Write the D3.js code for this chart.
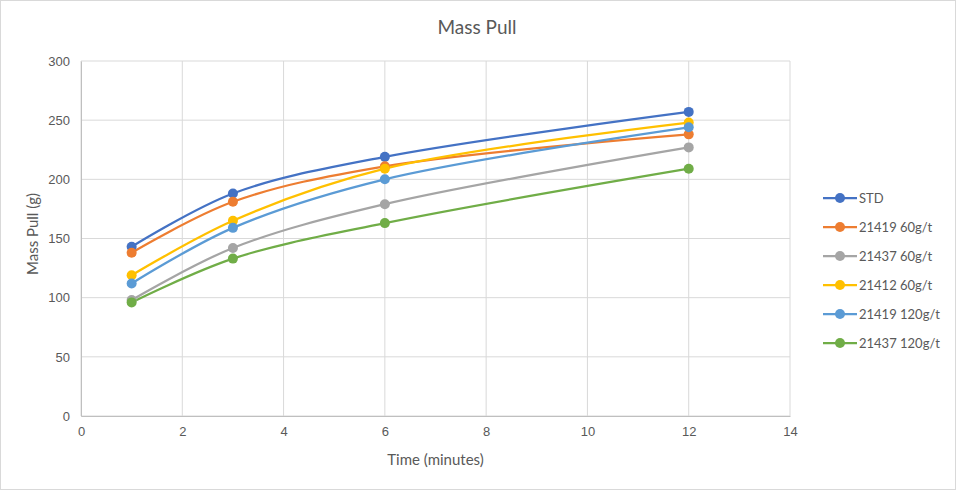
<!DOCTYPE html>
<html>
<head>
<meta charset="utf-8">
<script src="https://cdn.jsdelivr.net/npm/d3@7"></script>
<style>
  body { margin: 0; background: #fff; }
  svg { display: block; font-family: Lato, "Open Sans", sans-serif; }
</style>
</head>
<body>
<svg width="956" height="490"></svg>
<script>
// ---- Dados
const times = [1, 3, 6, 12];
const seriesNames = ['STD', '21419 60g/t', '21437 60g/t', '21412 60g/t', '21419 120g/t', '21437 120g/t'];
const std = [143, 188, 219, 257];
const s21419_60 = [138, 181, 211, 238];
const s21437_60 = [98, 142, 179, 227];
const s21412_60 = [119, 165, 209, 248];
const s21419_120 = [112, 159, 200, 244];
const s21437_120 = [96, 133, 163, 209];
const xTicks = [0, 2, 4, 6, 8, 10, 12, 14];
const yTicks = [0, 50, 100, 150, 200, 250, 300];

const colors = ['#4472C4', '#ED7D31', '#A5A5A5', '#FFC000', '#5B9BD5', '#70AD47'];
const allValues = [std, s21419_60, s21437_60, s21412_60, s21419_120, s21437_120];

const svg = d3.select('svg');
const margens = { left: 81, right: 166, top: 61, bottom: 74 };
const width = 956 - margens.left - margens.right;
const height = 490 - margens.top - margens.bottom;

// moldura
svg.append('rect')
  .attr('x', 0.5).attr('y', 0.5).attr('width', 955).attr('height', 489)
  .attr('fill', 'white').attr('stroke', '#d9d9d9');

const mapX = d3.scaleLinear().domain([0, 14]).range([0, width]);
const mapY = d3.scaleLinear().domain([0, 300]).range([height, 0]);

const g = svg.append('g').attr('transform', `translate(${margens.left}, ${margens.top})`);

// grade
g.selectAll('.hgrid').data(yTicks).join('line')
  .attr('x1', 0).attr('x2', width)
  .attr('y1', d => mapY(d)).attr('y2', d => mapY(d))
  .attr('stroke', '#d9d9d9').attr('stroke-width', 1);
g.selectAll('.vgrid').data(xTicks).join('line')
  .attr('y1', 0).attr('y2', height)
  .attr('x1', d => mapX(d)).attr('x2', d => mapX(d))
  .attr('stroke', '#d9d9d9').attr('stroke-width', 1);

// eixos
const xAxis = g.append('g')
  .attr('transform', `translate(0, ${height})`)
  .call(d3.axisBottom(mapX).tickValues(xTicks).tickSize(0).tickPadding(11));
const yAxis = g.append('g')
  .call(d3.axisLeft(mapY).tickValues(yTicks).tickSize(0).tickPadding(11));
[xAxis, yAxis].forEach(a => {
  a.select('.domain').attr('stroke', '#bfbfbf');
  a.selectAll('text').attr('fill', '#595959').style('font-size', '13px');
});

// linhas
const line = d3.line()
  .x((d, i) => mapX(times[i]))
  .y(d => mapY(d))
  .curve(d3.curveCatmullRom.alpha(0.5));

allValues.forEach((vals, k) => {
  g.append('path')
    .datum(vals)
    .attr('d', line)
    .attr('fill', 'none')
    .attr('stroke', colors[k])
    .attr('stroke-width', 2.25);
});
allValues.forEach((vals, k) => {
  g.selectAll(null).data(vals).join('circle')
    .attr('cx', (d, i) => mapX(times[i]))
    .attr('cy', d => mapY(d))
    .attr('r', 5)
    .attr('fill', colors[k]);
});

// títulos
svg.append('text')
  .attr('x', 477).attr('y', 34)
  .attr('text-anchor', 'middle')
  .attr('fill', '#595959')
  .style('font-size', '19px')
  .text('Mass Pull');

svg.append('text')
  .attr('x', margens.left + width / 2).attr('y', 465)
  .attr('text-anchor', 'middle')
  .attr('fill', '#595959')
  .style('font-size', '15px')
  .text('Time (minutes)');

svg.append('text')
  .attr('transform', 'translate(38, 234) rotate(-90)')
  .attr('text-anchor', 'middle')
  .attr('fill', '#595959')
  .style('font-size', '15px')
  .text('Mass Pull (g)');

// legenda
const legend = svg.append('g').attr('transform', 'translate(823, 198)');
seriesNames.forEach((name, k) => {
  const row = legend.append('g').attr('transform', `translate(0, ${k * 29})`);
  row.append('line').attr('x1', 0).attr('x2', 34).attr('y1', 0).attr('y2', 0)
    .attr('stroke', colors[k]).attr('stroke-width', 2.25);
  row.append('circle').attr('cx', 17).attr('cy', 0).attr('r', 5).attr('fill', colors[k]);
  row.append('text').attr('x', 36).attr('y', 0).attr('dy', '0.35em')
    .attr('fill', '#595959').style('font-size', '13px').text(name);
});
</script>
</body>
</html>
